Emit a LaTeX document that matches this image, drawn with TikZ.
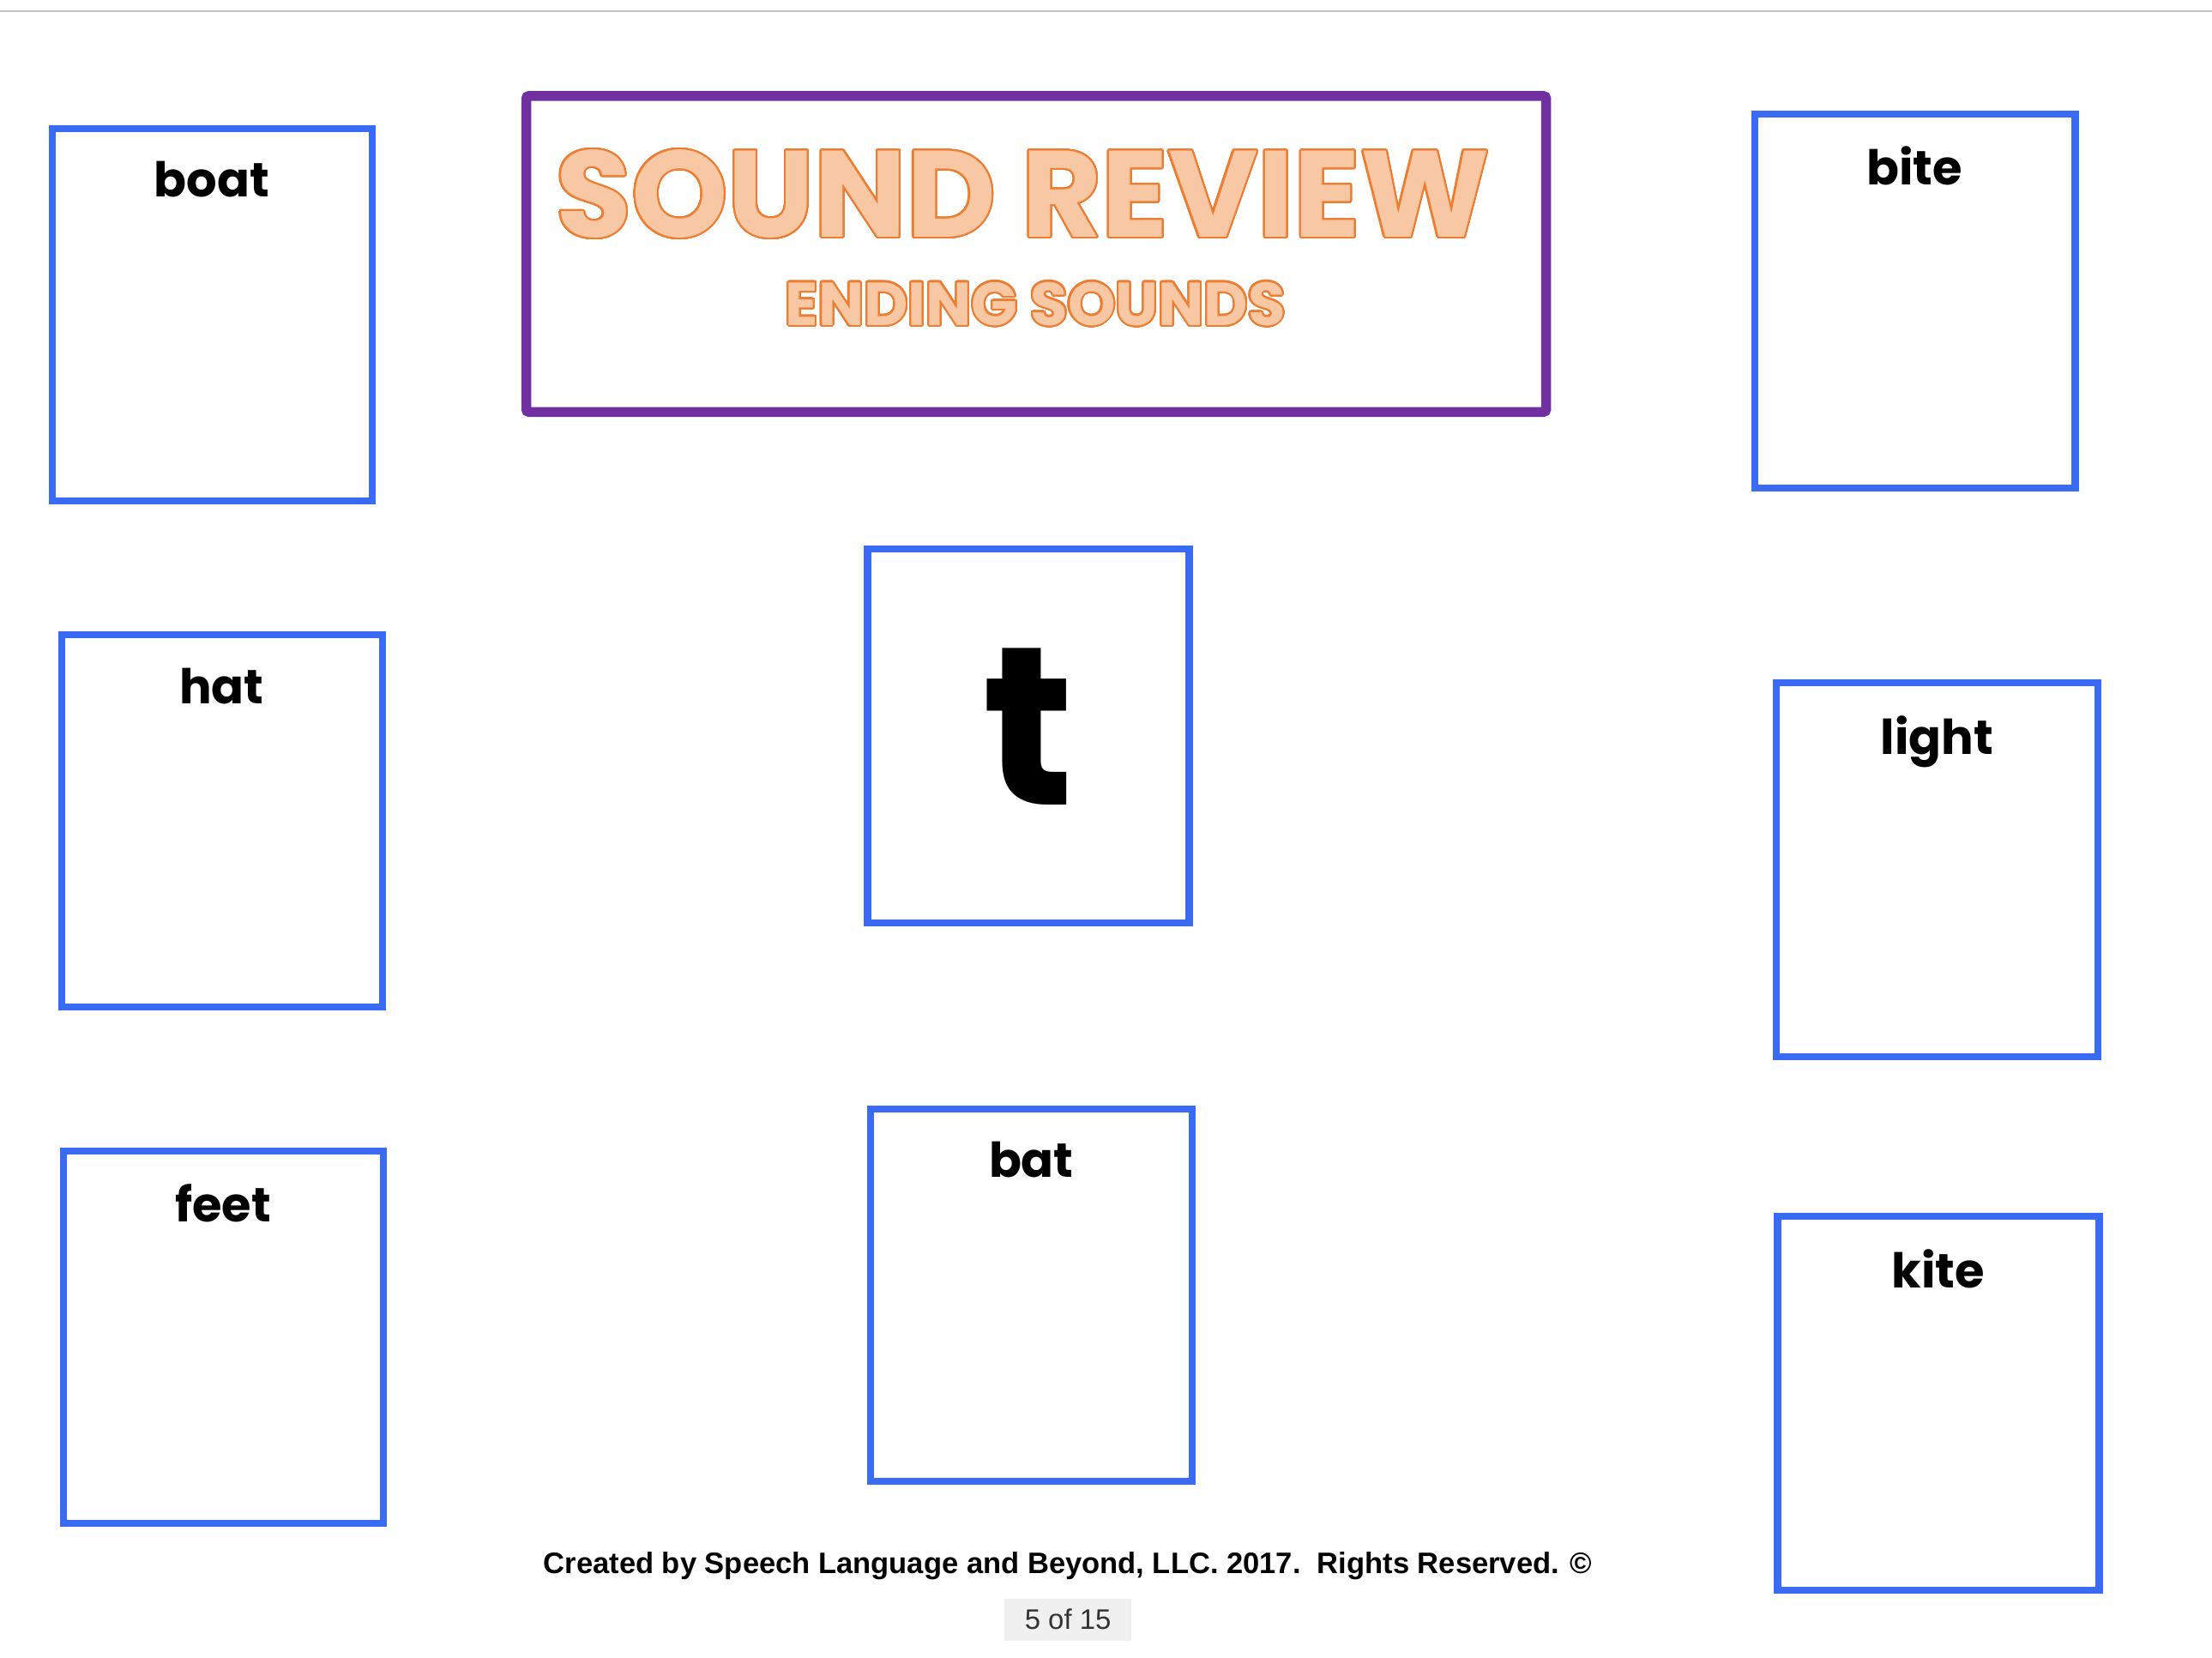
\documentclass[tikz,border=0pt]{standalone}
\usepackage{fontspec}
\setmainfont{Poppins}
\newfontfamily\arialf{Liberation Sans}
\usepackage[copies]{contour}
\contournumber{32}
\contourlength{1.3pt}
\definecolor{cardblue}{HTML}{3A6BF5}
\definecolor{ttlpurple}{HTML}{7030A0}
\definecolor{peach}{HTML}{F8C8A5}
\definecolor{orangeln}{HTML}{ED7D31}
\tikzset{card/.style={draw=cardblue,line width=5pt},
 word/.style={font=\fontsize{34}{40}\selectfont\bfseries,anchor=north}}
\begin{document}
\begin{tikzpicture}[x=1pt,y=-1pt]
\useasboundingbox (0,0) rectangle (1568,1175);
\fill[white] (0,0) rectangle (1568,1175);
\draw[gray!50,line width=1pt] (0,8) -- (1568,8);
\draw[draw=ttlpurple,line width=7pt,rounded corners=2pt] (373,68) rectangle (1096,292);
\node[font=\fontsize{87}{90}\selectfont\bfseries] (ttl) at (725,138) {\contour{orangeln}{\textcolor{peach}{SOUND REVIEW}}};
\node[font=\fontsize{43}{46}\selectfont\bfseries] (sub) at (734,216) {\contour{orangeln}{\textcolor{peach}{ENDING SOUNDS}}};
\draw[card] (37,91) rectangle (264,355); \node[word] (w1) at (150,111) {boat};
\draw[card] (44,450) rectangle (271,714); \node[word] (w2) at (157,470) {hat};
\draw[card] (45,816) rectangle (272,1080); \node[word] (w3) at (158,836) {feet};
\draw[card] (615,389) rectangle (843,654); \node[font=\fontsize{160}{160}\selectfont\bfseries] (t) at (729,515) {t};
\draw[card] (617,786) rectangle (845,1050); \node[word] (w4) at (731,806) {bat};
\draw[card] (1244,81) rectangle (1471,346); \node[word] (w5) at (1357,100) {bite};
\draw[card] (1259,484) rectangle (1487,749); \node[word] (w6) at (1373,504) {light};
\draw[card] (1260,862) rectangle (1488,1127); \node[word] (w7) at (1374,882) {kite};
\node[font=\fontsize{21}{24}\selectfont\arialf\bfseries] (foot) at (757,1110) {Created by Speech Language and Beyond, LLC. 2017.\ \ Rights Reserved. ©};
\fill[gray!12] (712,1133) rectangle (802,1163);
\node[font=\fontsize{20}{22}\selectfont\arialf,text=black!80] (pg) at (757,1148) {5 of 15};
\end{tikzpicture}
\end{document}
